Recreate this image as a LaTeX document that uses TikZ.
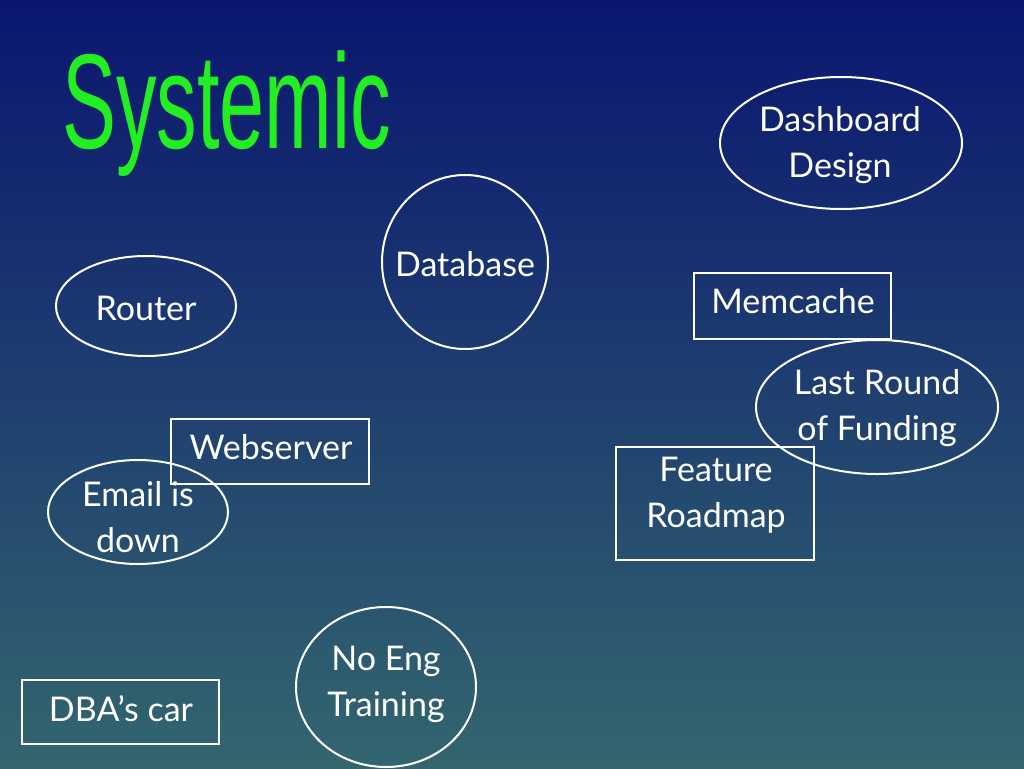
\documentclass[tikz,border=0pt]{standalone}
\usepackage{fontspec}
\setmainfont{Lato}
\newfontfamily\titlefont{Liberation Sans}
\usetikzlibrary{shapes.geometric}
\definecolor{topc}{HTML}{0A1670}
\definecolor{botc}{HTML}{33666F}
\definecolor{titlegreen}{HTML}{22EE22}
\tikzset{
 lbl/.style={text=white,font=\fontsize{34}{46}\selectfont,align=center},
 ell/.style={draw=white,line width=2pt,ellipse,inner sep=0pt},
 box/.style={draw=white,line width=2pt,rectangle,inner sep=0pt}
}
\begin{document}
\begin{tikzpicture}[x=1pt,y=-1pt]
\shade[top color=topc,bottom color=botc] (0,0) rectangle (1024,768);
\useasboundingbox (0,0) rectangle (1024,768);
\node[anchor=west,text=titlegreen,inner sep=0pt] (title) at (62,114) {\scalebox{0.6}[1]{\titlefont\fontsize{135}{135}\selectfont Systemic}};
% shapes
\node[ell,minimum width=242pt,minimum height=132pt] (dash) at (841,143) {};
\node[ell,minimum width=166pt,minimum height=174pt] (db) at (465,262) {};
\node[ell,minimum width=180pt,minimum height=100pt] (router) at (146,306) {};
\node[box,minimum width=197pt,minimum height=66pt] (mem) at (792.5,306) {};
\node[ell,minimum width=242pt,minimum height=134pt] (fund) at (877,407) {};
\node[box,minimum width=198pt,minimum height=65pt] (web) at (270,451.5) {};
\node[ell,minimum width=180pt,minimum height=104pt] (email) at (138,512) {};
\node[box,minimum width=198pt,minimum height=113pt] (feat) at (715,503.5) {};
\node[ell,minimum width=180pt,minimum height=160pt] (noeng) at (386,687) {};
\node[box,minimum width=197pt,minimum height=64pt] (dba) at (120.5,712) {};
% labels
\node[lbl] (dashT) at (840,145) {Dashboard\\Design};
\node[lbl] (dbT) at (465,264) {Database};
\node[lbl] (routerT) at (146,308) {Router};
\node[lbl] (memT) at (793,301) {Memcache};
\node[lbl] (fundT) at (877,408) {Last Round\\of Funding};
\node[lbl] (webT) at (271,447) {Webserver};
\node[lbl] (emailT) at (138,517) {Email is\\down};
\node[lbl] (featT) at (716,495) {Feature\\Roadmap};
\node[lbl] (noengT) at (386,684) {No Eng\\Training};
\node[lbl] (dbaT) at (121,709) {DBA’s car};
\end{tikzpicture}
\end{document}
